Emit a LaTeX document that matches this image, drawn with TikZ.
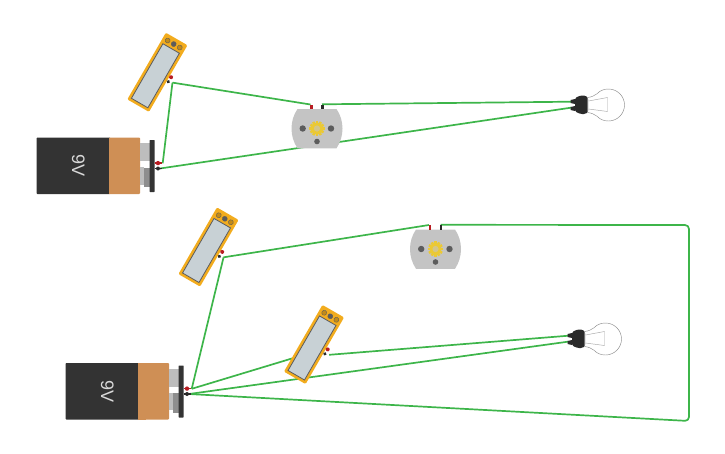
\documentclass[tikz,border=0pt]{standalone}
\usepackage{fontspec}
\setsansfont{Liberation Sans}
\usetikzlibrary{calc}
\definecolor{wirec}{HTML}{3DB54A}
\definecolor{batdark}{HTML}{333333}
\definecolor{batorange}{HTML}{CF8F55}
\definecolor{termlight}{HTML}{BDBDBD}
\definecolor{termdark}{HTML}{8E8E8E}
\definecolor{meterorange}{HTML}{F2AC1E}
\definecolor{screenc}{HTML}{C8D1D5}
\definecolor{motorc}{HTML}{C4C4C4}
\definecolor{holec}{HTML}{5C5C5C}
\definecolor{gearc}{HTML}{EBC934}
\definecolor{leadred}{HTML}{B81C22}
\definecolor{leadblack}{HTML}{2A2A2A}
\pgfdeclarelayer{wires}
\pgfsetlayers{wires,main}
\tikzset{
  x=1pt,y=-1pt,
  wire/.style={draw=wirec,line width=1.7pt,line join=round},
  redlead/.style={draw=leadred,line width=1.9pt},
  blacklead/.style={draw=leadblack,line width=1.9pt},
  battery/.pic={
    \fill[batdark,rounded corners=0.8pt] (0,0) rectangle (74,56.5);
    \fill[batorange,rounded corners=0.8pt] (72.5,0) rectangle (103.5,56.5);
    \fill[batorange] (72.5,0) rectangle (80,56.5);
    \node[text=white!85!black,font=\sffamily\fontsize{18}{18}\selectfont,rotate=-90,inner sep=0pt] (-label) at (41.9,28.3) {9V};
    \fill[termlight] (103.5,5.5) rectangle (113,23.5);
    \fill[termlight] (103.5,29.5) rectangle (107,47);
    \fill[termdark] (107,30) rectangle (113,49.5);
    \fill[batdark,rounded corners=0.6pt] (113,2.5) rectangle (118.2,54.5);
    \draw[redlead,line width=1.4pt] (118.2,25.6) -- (125,25.6);
    \draw[blacklead,line width=1.4pt] (118.2,31) -- (125,31);
    \fill[leadred] (121.5,25.6) circle (2.2);
    \fill[leadblack] (121.5,31) circle (2);
    \coordinate (-red) at (126.2,25.8);
    \coordinate (-black) at (123.5,31);
  },
  meter/.pic={
    \fill[meterorange,rounded corners=1.2pt] (-12.5,-38.5) rectangle (12.5,38.5);
    \fill[screenc,draw=holec,line width=0.8pt] (-9.5,-27.5) rectangle (9.5,35.5);
    \foreach \cx/\cc in {-7/meterorange!80!black,0/holec,7/meterorange!80!black}
      \filldraw[fill=\cc,draw=holec,line width=0.4pt] (\cx,-32.6) circle (2.5);
    \fill[leadred] (14.3,-2.6) circle (2);
    \fill[leadblack] (14.1,2.7) circle (1.8);
    \coordinate (-w) at (18.2,1.4);
    \coordinate (-r) at (12,-2.6);
  },
  motor/.pic={
    \fill[motorc] (-19.5,-19.5) -- (19.5,-19.5) .. controls (27.5,-8) and (27.5,8) .. (19.5,19.8) -- (-19.5,19.8) .. controls (-27.5,8) and (-27.5,-8) .. (-19.5,-19.5) -- cycle;
    \fill[holec] (-14.3,0) circle (3.2) (14,0) circle (3.2) (0,13) circle (2.8);
    \foreach \a in {0,30,...,330}
      \fill[gearc,rotate=\a] (-1.3,-7.6) rectangle (1.3,-3);
    \fill[gearc] (0,0) circle (5.8);
    \fill[motorc!60!gearc] (0,0) circle (3.1);
    \draw[redlead,line width=2.6pt] (-5.5,-19.5) -- (-5.5,-24);
    \draw[blacklead,line width=2.6pt] (5.5,-19.5) -- (5.5,-24);
    \coordinate (-red) at (-6.5,-24);
    \coordinate (-black) at (5,-24.2);
  },
  bulb/.pic={
    \filldraw[fill=white,draw=black!45,line width=0.45pt]
      (-21,-7.5) .. controls (-17,-8) and (-14.5,-9) .. (-11.5,-11.2)
      .. controls (-8.5,-14.5) and (-4.4,-16) .. (0,-16)
      .. controls (8.8,-16) and (16,-8.8) .. (16,0)
      .. controls (16,8.8) and (8.8,16) .. (0,16)
      .. controls (-4.4,16) and (-8.5,14.5) .. (-11.5,11.2)
      .. controls (-14.5,9) and (-17,8) .. (-21,7.5) -- cycle;
    \draw[black!35,line width=0.45pt] (-20,-4) -- (-1,-7.5) -- (-1,6.5) -- (-20,4);
    \fill[leadblack,rounded corners=1.5pt] (-33.5,-7) -- (-28,-9.5) -- (-23,-9.5) -- (-20.5,-7) -- (-20.5,7) -- (-23,9) -- (-28,9) -- (-33.5,6.5) -- cycle;
    \fill[black!55] (-22,-7) rectangle (-20.5,7);
    \fill[leadblack] (-38,-5) -- (-33.5,-6) -- (-33.5,-1) -- (-38,-2) -- cycle;
    \fill[leadblack] (-38,2) -- (-33.5,1) -- (-33.5,6) -- (-38,5) -- cycle;
    \coordinate (-a) at (-37,-3.3);
    \coordinate (-b) at (-37,2.6);
  }
}
\begin{document}
\begin{tikzpicture}
\useasboundingbox (0,0) rectangle (725,453);
% components
\pic (bat1) at (36.5,137.5) {battery};
\pic (bat2) at (65.5,363) {battery};
\pic[rotate=-30] (met1) at (157.4,72.3) {meter};
\pic[rotate=-30] (met2) at (208.5,247) {meter};
\pic[rotate=-30] (met3) at (314,344.5) {meter};
\pic (mot1) at (317,128.5) {motor};
\pic (mot2) at (435.5,249) {motor};
\pic (bulb1) at (608.5,105) {bulb};
\pic (bulb2) at (605.5,339) {bulb};
\coordinate (c1) at (689,421);
\coordinate (c2) at (689,225);
% wires
\begin{pgfonlayer}{wires}
\draw[wire] (met1-w) -- (mot1-red);
\draw[wire] (met1-w) -- (bat1-red);
\draw[wire] (bat1-black) -- (bulb1-b);
\draw[wire] (mot1-black) -- (bulb1-a);
\draw[wire] (bat2-red) -- (met2-w);
\draw[wire] (met2-w) -- (mot2-red);
\draw[wire] (bat2-red) -- (met3-r);
\draw[wire] (met3-w) -- (bulb2-a);
\draw[wire] (bat2-black) -- (bulb2-b);
\draw[wire,rounded corners=4pt] (bat2-black) -- (c1) -- (c2) -- (mot2-black);
\end{pgfonlayer}
\end{tikzpicture}
\end{document}
